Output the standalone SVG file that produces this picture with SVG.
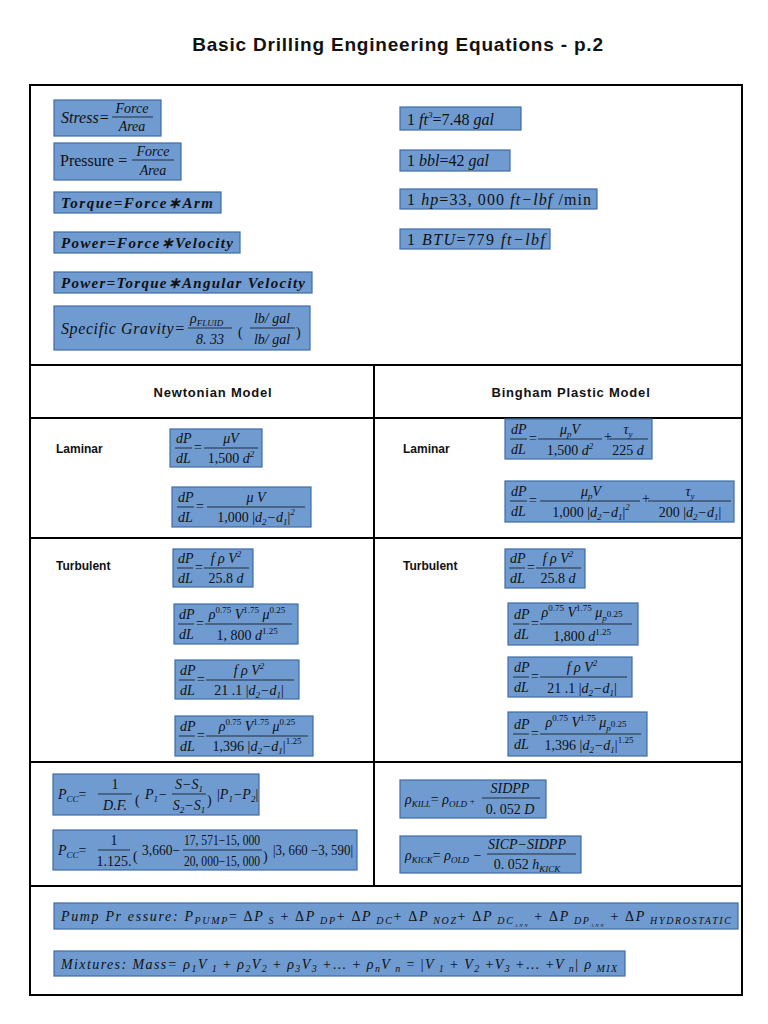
<svg xmlns="http://www.w3.org/2000/svg" width="768" height="1024" viewBox="0 0 768 1024">
<style>
.b{fill:#6f9bd1;stroke:#3e6ca6;stroke-width:1.2}
.m{font-family:"Liberation Serif",serif;font-style:italic;font-size:14px;fill:#111}
.n{font-family:"Liberation Serif",serif;font-size:14px;fill:#111}
.s{font-size:9px}
.f{stroke:#111;stroke-width:0.8}
.fr{fill:none;stroke:#000;stroke-width:2}
.h{font-family:"Liberation Sans",Arial,sans-serif;font-weight:bold;font-size:13px;fill:#111}
.l{font-family:"Liberation Sans",Arial,sans-serif;font-weight:bold;font-size:12px;fill:#111}
.bi{font-weight:bold;font-size:15px}
.big{font-size:16px}
</style>
<rect width="768" height="1024" fill="#fff"/>
<text x="398" y="51" text-anchor="middle" font-family="Liberation Sans,Arial,sans-serif" font-weight="bold" font-size="19" letter-spacing="0.8" fill="#111">Basic Drilling Engineering Equations  -  p.2</text>
<g id="frame">
<rect class="fr" x="30" y="85" width="712" height="910"/>
<line class="fr" x1="30" y1="365" x2="742" y2="365"/>
<line class="fr" x1="30" y1="418" x2="742" y2="418" stroke-width="1.2"/>
<line class="fr" x1="30" y1="538" x2="742" y2="538" stroke-width="1.2"/>
<line class="fr" x1="30" y1="762" x2="742" y2="762"/>
<line class="fr" x1="30" y1="886" x2="742" y2="886"/>
<line class="fr" x1="374" y1="365" x2="374" y2="886"/>
</g>
<g id="top-left">
<g id="stress"><rect class="b" x="54" y="100" width="107" height="36"/>
<text class="m big" x="61" y="123">Stress=</text><text class="m" x="132" y="113" text-anchor="middle">Force</text><line class="f" x1="112" y1="117" x2="153" y2="117"/><text class="m" x="132" y="131" text-anchor="middle">Area</text></g>
<g id="pressure"><rect class="b" x="54" y="143" width="127" height="37"/>
<text class="n big" x="60" y="166">Pressure =</text><text class="m" x="153" y="156" text-anchor="middle">Force</text><line class="f" x1="132" y1="160" x2="174" y2="160"/><text class="m" x="153" y="175" text-anchor="middle">Area</text></g>
<g id="torque"><rect class="b" x="54" y="192" width="167" height="21"/><text class="m bi" x="61" y="208" textLength="152" lengthAdjust="spacing">Torque=Force∗Arm</text></g>
<g id="power1"><rect class="b" x="54" y="232" width="186" height="21"/><text class="m bi" x="61" y="248" textLength="172" lengthAdjust="spacing">Power=Force∗Velocity</text></g>
<g id="power2"><rect class="b" x="54" y="272" width="258" height="21"/><text class="m bi" x="61" y="288" textLength="244" lengthAdjust="spacing">Power=Torque∗Angular Velocity</text></g>
<g id="sg"><rect class="b" x="54" y="306" width="256" height="44"/>
<text class="m big" x="61" y="334" textLength="124" lengthAdjust="spacing">Specific Gravity=</text><text class="m" x="190" y="323">ρ<tspan class="s" dy="3">FLUID</tspan></text><line class="f" x1="188" y1="328" x2="232" y2="328"/><text class="m" x="210" y="344" text-anchor="middle" font-style="normal">8. 33</text>
<text class="n" x="238" y="337" font-size="30">(</text><text class="m" x="272" y="323" text-anchor="middle">lb/ gal</text><line class="f" x1="250" y1="328" x2="295" y2="328"/><text class="m" x="272" y="344" text-anchor="middle">lb/ gal</text><text class="n" x="296" y="337" font-size="30">)</text></g>
</g>
<g id="top-right">
<g id="ft3"><rect class="b" x="400" y="107" width="121" height="23"/><text class="m big" x="407" y="125"><tspan font-style="normal">1 </tspan>ft<tspan class="s" dy="-7">3</tspan><tspan dy="7" font-style="normal">=7.48 </tspan>gal</text></g>
<g id="bbl"><rect class="b" x="400" y="150" width="110" height="21"/><text class="m big" x="407" y="166"><tspan font-style="normal">1 </tspan>bbl<tspan font-style="normal">=42 </tspan>gal</text></g>
<g id="hp"><rect class="b" x="400" y="189" width="197" height="20"/><text class="m big" x="407" y="205" textLength="184" lengthAdjust="spacing"><tspan font-style="normal">1 </tspan>hp<tspan font-style="normal">=33, 000 </tspan>ft−lbf<tspan font-style="normal"> /min</tspan></text></g>
<g id="btu"><rect class="b" x="400" y="229" width="150" height="20"/><text class="m big" x="407" y="245" textLength="138" lengthAdjust="spacing"><tspan font-style="normal">1 </tspan>BTU<tspan font-style="normal">=779 </tspan>ft−lbf</text></g>
</g>
<text class="h" x="213" y="397" text-anchor="middle" letter-spacing="0.8">Newtonian Model</text>
<text class="h" x="571" y="397" text-anchor="middle" letter-spacing="0.8">Bingham Plastic Model</text>
<text class="l" x="56" y="453">Laminar</text>
<text class="l" x="56" y="570">Turbulent</text>
<text class="l" x="403" y="453">Laminar</text>
<text class="l" x="403" y="570">Turbulent</text>
<g id="n-lam1"><rect class="b" x="170" y="429" width="92" height="38"/>
<text class="m" x="176" y="443">dP</text><line class="f" x1="175" y1="448" x2="192" y2="448"/><text class="m" x="176" y="463">dL</text><text class="n" x="194" y="452">=</text>
<text class="m" x="231" y="443" text-anchor="middle">μV</text><line class="f" x1="204" y1="448" x2="258" y2="448"/><text class="m" x="231" y="463" text-anchor="middle"><tspan font-style="normal">1,500 </tspan>d<tspan class="s" dy="-6">2</tspan></text></g>
<g id="n-lam2"><rect class="b" x="172" y="487" width="139" height="40"/>
<text class="m" x="178" y="502">dP</text><line class="f" x1="177" y1="507" x2="194" y2="507"/><text class="m" x="178" y="522">dL</text><text class="n" x="196" y="511">=</text>
<text class="m" x="256" y="502" text-anchor="middle">μ V</text><line class="f" x1="207" y1="507" x2="305" y2="507"/><text class="m" x="256" y="522" text-anchor="middle"><tspan font-style="normal">1,000 |</tspan>d<tspan class="s" dy="3">2</tspan><tspan dy="-3">−d</tspan><tspan class="s" dy="3">1</tspan><tspan dy="-3" font-style="normal">|</tspan><tspan class="s" dy="-7">2</tspan></text></g>
<g id="n-t1"><rect class="b" x="173" y="549" width="80" height="38"/>
<text class="m" x="178" y="563">dP</text><line class="f" x1="177" y1="568" x2="193" y2="568"/><text class="m" x="178" y="583">dL</text><text class="n" x="195" y="572">=</text>
<text class="m" x="226" y="563" text-anchor="middle">f  ρ V<tspan class="s" dy="-6">2</tspan></text><line class="f" x1="204" y1="568" x2="249" y2="568"/><text class="m" x="226" y="583" text-anchor="middle"><tspan font-style="normal">25.8 </tspan>d</text></g>
<g id="n-t2"><rect class="b" x="174" y="604" width="124" height="40"/>
<text class="m" x="179" y="619">dP</text><line class="f" x1="178" y1="624" x2="194" y2="624"/><text class="m" x="179" y="639">dL</text><text class="n" x="196" y="628">=</text>
<text class="m" x="247" y="619" text-anchor="middle">ρ<tspan class="s" dy="-6" font-style="normal">0.75</tspan><tspan dy="6"> V</tspan><tspan class="s" dy="-6" font-style="normal">1.75</tspan><tspan dy="6"> μ</tspan><tspan class="s" dy="-6" font-style="normal">0.25</tspan></text><line class="f" x1="205" y1="624" x2="292" y2="624"/><text class="m" x="247" y="640" text-anchor="middle"><tspan font-style="normal">1, 800 </tspan>d<tspan class="s" dy="-6" font-style="normal">1.25</tspan></text></g>
<g id="n-t3"><rect class="b" x="175" y="660" width="124" height="39"/>
<text class="m" x="180" y="675">dP</text><line class="f" x1="179" y1="680" x2="195" y2="680"/><text class="m" x="180" y="695">dL</text><text class="n" x="197" y="684">=</text>
<text class="m" x="249" y="675" text-anchor="middle">f  ρ  V<tspan class="s" dy="-6">2</tspan></text><line class="f" x1="206" y1="680" x2="294" y2="680"/><text class="m" x="249" y="695" text-anchor="middle"><tspan font-style="normal">21 .1 |</tspan>d<tspan class="s" dy="3">2</tspan><tspan dy="-3">−d</tspan><tspan class="s" dy="3">1</tspan><tspan dy="-3" font-style="normal">|</tspan></text></g>
<g id="n-t4"><rect class="b" x="175" y="716" width="138" height="40"/>
<text class="m" x="180" y="731">dP</text><line class="f" x1="179" y1="736" x2="195" y2="736"/><text class="m" x="180" y="751">dL</text><text class="n" x="197" y="740">=</text>
<text class="m" x="257" y="731" text-anchor="middle">ρ<tspan class="s" dy="-6" font-style="normal">0.75</tspan><tspan dy="6"> V</tspan><tspan class="s" dy="-6" font-style="normal">1.75</tspan><tspan dy="6"> μ</tspan><tspan class="s" dy="-6" font-style="normal">0.25</tspan></text><line class="f" x1="206" y1="736" x2="308" y2="736"/><text class="m" x="257" y="751" text-anchor="middle"><tspan font-style="normal">1,396 |</tspan>d<tspan class="s" dy="3">2</tspan><tspan dy="-3">−d</tspan><tspan class="s" dy="3">1</tspan><tspan dy="-3" font-style="normal">|</tspan><tspan class="s" dy="-7" font-style="normal">1.25</tspan></text></g>
<g id="b-lam1"><rect class="b" x="505" y="419" width="147" height="40"/>
<text class="m" x="511" y="434">dP</text><line class="f" x1="510" y1="439" x2="527" y2="439"/><text class="m" x="511" y="454">dL</text><text class="n" x="529" y="443">=</text>
<text class="m" x="570" y="434" text-anchor="middle">μ<tspan class="s" dy="3">p</tspan><tspan dy="-3">V</tspan></text><line class="f" x1="538" y1="439" x2="602" y2="439"/><text class="m" x="570" y="455" text-anchor="middle"><tspan font-style="normal">1,500 </tspan>d<tspan class="s" dy="-6">2</tspan></text>
<text class="n" x="604" y="441" font-size="9">+</text>
<text class="m" x="628" y="434" text-anchor="middle">τ<tspan class="s" dy="3">y</tspan></text><line class="f" x1="609" y1="439" x2="648" y2="439"/><text class="m" x="628" y="455" text-anchor="middle"><tspan font-style="normal">225 </tspan>d</text></g>
<g id="b-lam2"><rect class="b" x="505" y="481" width="229" height="41"/>
<text class="m" x="511" y="496">dP</text><line class="f" x1="510" y1="501" x2="527" y2="501"/><text class="m" x="511" y="516">dL</text><text class="n" x="529" y="505">=</text>
<text class="m" x="591" y="496" text-anchor="middle">μ<tspan class="s" dy="3">p</tspan><tspan dy="-3">V</tspan></text><line class="f" x1="540" y1="501" x2="640" y2="501"/><text class="m" x="591" y="517" text-anchor="middle"><tspan font-style="normal">1,000 |</tspan>d<tspan class="s" dy="3">2</tspan><tspan dy="-3">−d</tspan><tspan class="s" dy="3">1</tspan><tspan dy="-3" font-style="normal">|</tspan><tspan class="s" dy="-7">2</tspan></text>
<text class="n" x="642" y="503" font-size="9">+</text>
<text class="m" x="690" y="496" text-anchor="middle">τ<tspan class="s" dy="3">y</tspan></text><line class="f" x1="648" y1="501" x2="731" y2="501"/><text class="m" x="690" y="517" text-anchor="middle"><tspan font-style="normal">200 |</tspan>d<tspan class="s" dy="3">2</tspan><tspan dy="-3">−d</tspan><tspan class="s" dy="3">1</tspan><tspan dy="-3" font-style="normal">|</tspan></text></g>
<g id="b-t1"><rect class="b" x="505" y="549" width="80" height="39"/>
<text class="m" x="510" y="563">dP</text><line class="f" x1="509" y1="568" x2="525" y2="568"/><text class="m" x="510" y="583">dL</text><text class="n" x="527" y="572">=</text>
<text class="m" x="558" y="563" text-anchor="middle">f  ρ V<tspan class="s" dy="-6">2</tspan></text><line class="f" x1="536" y1="568" x2="581" y2="568"/><text class="m" x="558" y="583" text-anchor="middle"><tspan font-style="normal">25.8 </tspan>d</text></g>
<g id="b-t2"><rect class="b" x="508" y="603" width="130" height="42"/>
<text class="m" x="514" y="619">dP</text><line class="f" x1="513" y1="624" x2="529" y2="624"/><text class="m" x="514" y="639">dL</text><text class="n" x="531" y="628">=</text>
<text class="m" x="582" y="617" text-anchor="middle">ρ<tspan class="s" dy="-6" font-style="normal">0.75</tspan><tspan dy="6"> V</tspan><tspan class="s" dy="-6" font-style="normal">1.75</tspan><tspan dy="6">  μ</tspan><tspan class="s" dy="4">p</tspan><tspan class="s" dy="-4" font-style="normal">0.25</tspan></text><line class="f" x1="540" y1="624" x2="632" y2="624"/><text class="m" x="582" y="641" text-anchor="middle"><tspan font-style="normal">1,800 </tspan>d<tspan class="s" dy="-6" font-style="normal">1.25</tspan></text></g>
<g id="b-t3"><rect class="b" x="508" y="657" width="124" height="40"/>
<text class="m" x="514" y="672">dP</text><line class="f" x1="513" y1="677" x2="529" y2="677"/><text class="m" x="514" y="692">dL</text><text class="n" x="531" y="681">=</text>
<text class="m" x="582" y="672" text-anchor="middle">f  ρ  V<tspan class="s" dy="-6">2</tspan></text><line class="f" x1="540" y1="677" x2="627" y2="677"/><text class="m" x="582" y="693" text-anchor="middle"><tspan font-style="normal">21 .1 |</tspan>d<tspan class="s" dy="3">2</tspan><tspan dy="-3">−d</tspan><tspan class="s" dy="3">1</tspan><tspan dy="-3" font-style="normal">|</tspan></text></g>
<g id="b-t4"><rect class="b" x="508" y="712" width="139" height="44"/>
<text class="m" x="514" y="729">dP</text><line class="f" x1="513" y1="734" x2="529" y2="734"/><text class="m" x="514" y="749">dL</text><text class="n" x="531" y="738">=</text>
<text class="m" x="586" y="727" text-anchor="middle">ρ<tspan class="s" dy="-6" font-style="normal">0.75</tspan><tspan dy="6"> V</tspan><tspan class="s" dy="-6" font-style="normal">1.75</tspan><tspan dy="6">  μ</tspan><tspan class="s" dy="4">p</tspan><tspan class="s" dy="-4" font-style="normal">0.25</tspan></text><line class="f" x1="540" y1="734" x2="641" y2="734"/><text class="m" x="589" y="750" text-anchor="middle"><tspan font-style="normal">1,396 |</tspan>d<tspan class="s" dy="3">2</tspan><tspan dy="-3">−d</tspan><tspan class="s" dy="3">1</tspan><tspan dy="-3" font-style="normal">|</tspan><tspan class="s" dy="-7" font-style="normal">1.25</tspan></text></g>
<g id="pcc1"><rect class="b" x="53" y="774" width="206" height="41"/>
<text class="m" x="58" y="799">P<tspan class="s" dy="3">CC</tspan><tspan dy="-3" font-style="normal">=</tspan></text>
<text class="n" x="115" y="789" text-anchor="middle">1</text><line class="f" x1="98" y1="794" x2="132" y2="794"/><text class="m" x="115" y="810" text-anchor="middle">D.F.</text>
<text class="n" x="135" y="805" font-size="28">(</text><text class="m" x="145" y="799">P<tspan class="s" dy="3">1</tspan><tspan dy="-3">−</tspan></text>
<text class="m" x="189" y="789" text-anchor="middle">S−S<tspan class="s" dy="3">1</tspan></text><line class="f" x1="172" y1="794" x2="206" y2="794"/><text class="m" x="189" y="810" text-anchor="middle">S<tspan class="s" dy="3">2</tspan><tspan dy="-3">−S</tspan><tspan class="s" dy="3">1</tspan></text>
<text class="n" x="207" y="805" font-size="28">)</text><text class="m" x="217" y="799"><tspan font-style="normal">|</tspan>P<tspan class="s" dy="3">1</tspan><tspan dy="-3">−P</tspan><tspan class="s" dy="3">2</tspan><tspan dy="-3" font-style="normal">|</tspan></text></g>
<g id="pcc2"><rect class="b" x="53" y="830" width="304" height="40"/>
<text class="m" x="58" y="855">P<tspan class="s" dy="3">CC</tspan><tspan dy="-3" font-style="normal">=</tspan></text>
<text class="n" x="114" y="845" text-anchor="middle">1</text><line class="f" x1="98" y1="850" x2="130" y2="850"/><text class="n" x="114" y="866" text-anchor="middle" font-size="13">1.125.</text>
<text class="n" x="133" y="861" font-size="28">(</text><text class="n" x="142" y="855" font-size="13" textLength="38" lengthAdjust="spacingAndGlyphs">3,660−</text>
<text class="n" x="222" y="845" text-anchor="middle" font-size="13" textLength="76" lengthAdjust="spacingAndGlyphs">17, 571−15, 000</text><line class="f" x1="183" y1="850" x2="262" y2="850"/><text class="n" x="222" y="866" text-anchor="middle" font-size="13" textLength="76" lengthAdjust="spacingAndGlyphs">20, 000−15, 000</text>
<text class="n" x="263" y="861" font-size="28">)</text><text class="n" x="273" y="855" font-size="13" textLength="80" lengthAdjust="spacingAndGlyphs">|3, 660 −3, 590|</text></g>
<g id="kill"><rect class="b" x="400" y="780" width="146" height="38"/>
<text class="m" x="405" y="804">ρ<tspan class="s" dy="3">KILL</tspan><tspan dy="-3" font-style="normal">= </tspan>ρ<tspan class="s" dy="3">OLD</tspan><tspan dy="-3" font-size="9"> +</tspan></text>
<text class="m" x="510" y="793" text-anchor="middle">SIDPP</text><line class="f" x1="482" y1="798" x2="540" y2="798"/><text class="m" x="510" y="814" text-anchor="middle"><tspan font-style="normal">0. 052 </tspan>D</text></g>
<g id="kick"><rect class="b" x="400" y="836" width="181" height="37"/>
<text class="m" x="405" y="860">ρ<tspan class="s" dy="3">KICK</tspan><tspan dy="-3" font-style="normal">= </tspan>ρ<tspan class="s" dy="3">OLD</tspan><tspan dy="-3"> −</tspan></text>
<text class="m" x="527" y="849" text-anchor="middle">SICP−SIDPP</text><line class="f" x1="487" y1="854" x2="576" y2="854"/><text class="m" x="527" y="869" text-anchor="middle"><tspan font-style="normal">0. 052 </tspan>h<tspan class="s" dy="3">KICK</tspan></text></g>
<g id="pump"><rect class="b" x="54" y="903" width="684" height="26"/>
<text class="m" x="61" y="921" font-size="17" textLength="670" lengthAdjust="spacing">Pump Pr essure:  P<tspan font-size="10" dy="3">PUMP</tspan><tspan dy="-3" font-style="normal">= Δ</tspan>P<tspan font-size="10" dy="3"> S</tspan><tspan dy="-3" font-style="normal"> + Δ</tspan>P<tspan font-size="10" dy="3"> DP</tspan><tspan dy="-3" font-style="normal">+ Δ</tspan>P<tspan font-size="10" dy="3"> DC</tspan><tspan dy="-3" font-style="normal">+ Δ</tspan>P<tspan font-size="10" dy="3"> NOZ</tspan><tspan dy="-3" font-style="normal">+ Δ</tspan>P<tspan font-size="10" dy="3"> DC</tspan><tspan font-size="5" dy="3">ANN</tspan><tspan dy="-6" font-style="normal"> + Δ</tspan>P<tspan font-size="10" dy="3"> DP</tspan><tspan font-size="5" dy="3">ANN</tspan><tspan dy="-6" font-style="normal"> + Δ</tspan>P<tspan font-size="10" dy="3"> HYDROSTATIC</tspan></text></g>
<g id="mix"><rect class="b" x="54" y="951" width="571" height="25"/>
<text class="m" x="61" y="969" font-size="17" textLength="556" lengthAdjust="spacing">Mixtures:  Mass= ρ<tspan font-size="10" dy="3">1</tspan><tspan dy="-3">V</tspan><tspan font-size="10" dy="3"> 1</tspan><tspan dy="-3" font-style="normal"> + </tspan>ρ<tspan font-size="10" dy="3">2</tspan><tspan dy="-3">V</tspan><tspan font-size="10" dy="3">2</tspan><tspan dy="-3" font-style="normal"> + </tspan>ρ<tspan font-size="10" dy="3">3</tspan><tspan dy="-3">V</tspan><tspan font-size="10" dy="3">3</tspan><tspan dy="-3" font-style="normal"> +… + </tspan>ρ<tspan font-size="10" dy="3">n</tspan><tspan dy="-3">V</tspan><tspan font-size="10" dy="3"> n</tspan><tspan dy="-3" font-style="normal"> = |</tspan>V<tspan font-size="10" dy="3"> 1</tspan><tspan dy="-3" font-style="normal"> + </tspan>V<tspan font-size="10" dy="3">2</tspan><tspan dy="-3" font-style="normal"> +</tspan>V<tspan font-size="10" dy="3">3</tspan><tspan dy="-3" font-style="normal"> +… +</tspan>V<tspan font-size="10" dy="3"> n</tspan><tspan dy="-3" font-style="normal">| </tspan>ρ<tspan font-size="10" dy="3"> MIX</tspan></text></g>
</svg>
